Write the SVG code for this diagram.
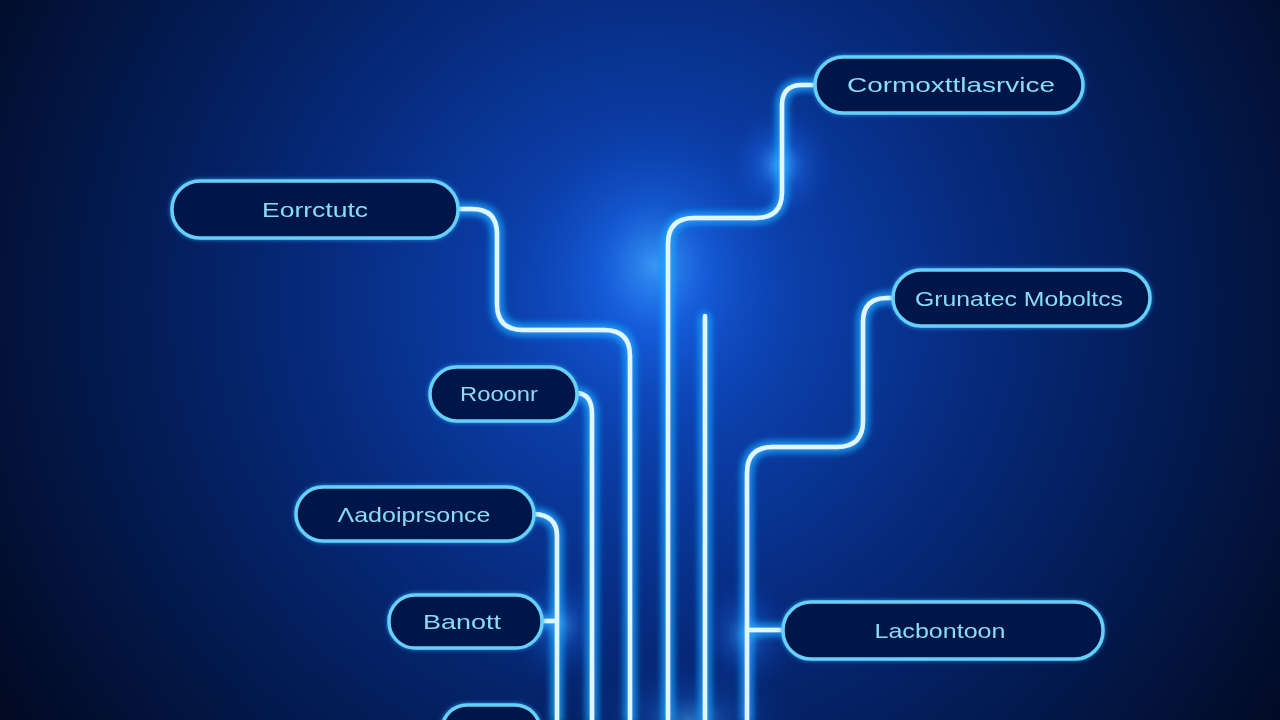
<svg xmlns="http://www.w3.org/2000/svg" width="1280" height="720" viewBox="0 0 1280 720">
<defs>
<radialGradient id="bg" cx="650" cy="300" r="760" gradientUnits="userSpaceOnUse">
<stop offset="0" stop-color="#1458d8"/>
<stop offset="0.2" stop-color="#0b3ea8"/>
<stop offset="0.45" stop-color="#06297a"/>
<stop offset="0.75" stop-color="#03184a"/>
<stop offset="1" stop-color="#020a24"/>
</radialGradient>
<radialGradient id="spot" cx="0.5" cy="0.5" r="0.5">
<stop offset="0" stop-color="#45adff" stop-opacity="0.9"/>
<stop offset="0.4" stop-color="#1c6ff0" stop-opacity="0.4"/>
<stop offset="1" stop-color="#0a3ab0" stop-opacity="0"/>
</radialGradient>
<filter id="glow" filterUnits="userSpaceOnUse" x="0" y="0" width="1280" height="720">
<feGaussianBlur in="SourceAlpha" stdDeviation="5" result="b"/>
<feFlood flood-color="#2aa6ff" result="f"/>
<feComposite in="f" in2="b" operator="in" result="g"/>
<feMerge><feMergeNode in="g"/><feMergeNode in="g"/><feMergeNode in="g"/><feMergeNode in="SourceGraphic"/></feMerge>
</filter>
<filter id="tglow" filterUnits="userSpaceOnUse" x="0" y="0" width="1280" height="720">
<feGaussianBlur in="SourceAlpha" stdDeviation="2" result="b"/>
<feFlood flood-color="#2aa6ff" flood-opacity="0.8" result="f"/>
<feComposite in="f" in2="b" operator="in" result="g"/>
<feMerge><feMergeNode in="g"/><feMergeNode in="SourceGraphic"/></feMerge>
</filter>
</defs>
<style>
.wire{fill:none;stroke:#dcf7ff;stroke-width:4.5;stroke-linecap:round;stroke-linejoin:round}
.pill{fill:#04164a;stroke:#66d0f8;stroke-width:3.5}
.lbl{font-family:"Liberation Sans","DejaVu Sans",sans-serif;font-size:21px;fill:#8adcf7;text-anchor:middle}
</style>
<rect width="1280" height="720" fill="url(#bg)"/>
<ellipse cx="655" cy="265" rx="140" ry="160" fill="url(#spot)" opacity="0.85"/>
<ellipse cx="780" cy="165" rx="55" ry="60" fill="url(#spot)"/>
<ellipse cx="560" cy="625" rx="50" ry="60" fill="url(#spot)" opacity="0.7"/>
<ellipse cx="745" cy="635" rx="50" ry="60" fill="url(#spot)" opacity="0.7"/>
<ellipse cx="690" cy="720" rx="110" ry="60" fill="url(#spot)" opacity="0.6"/>

<g id="connectors" filter="url(#glow)">
<path class="wire" d="M815,85 H802 Q782,85 782,105 V192 Q782,218 756,218 H694 Q668,218 668,244 V722"/>
<path class="wire" d="M705,316 V722"/>
<path class="wire" d="M458,209 H472 Q497,209 497,234 V304 Q497,330 523,330 H604 Q630,330 630,356 V722"/>
<path class="wire" d="M577,393 Q592,394 592,414 V722"/>
<path class="wire" d="M534,514 Q557,515 557,536 V722"/>
<path class="wire" d="M542,621 H557"/>
<path class="wire" d="M893,298 H887 Q863,298 863,322 V421 Q863,447 837,447 H773 Q747,447 747,473 V722"/>
<path class="wire" d="M783,630 H747"/>
</g>

<g id="node-cormox" filter="url(#tglow)">
<rect class="pill" x="815" y="57" width="268" height="56" rx="28"/>
<text class="lbl" x="951" y="92" textLength="208" lengthAdjust="spacingAndGlyphs">Cormoxttlasrvice</text>
</g>
<g id="node-eorrctutc" filter="url(#tglow)">
<rect class="pill" x="172" y="181" width="286" height="57" rx="28"/>
<text class="lbl" x="315" y="217" textLength="106" lengthAdjust="spacingAndGlyphs">Eorrctutc</text>
</g>
<g id="node-grunatec" filter="url(#tglow)">
<rect class="pill" x="893" y="270" width="257" height="56" rx="28"/>
<text class="lbl" x="1019" y="306" textLength="208" lengthAdjust="spacingAndGlyphs">Grunatec Moboltcs</text>
</g>
<g id="node-rooonr" filter="url(#tglow)">
<rect class="pill" x="430" y="367" width="147" height="54" rx="27"/>
<text class="lbl" x="499" y="401" textLength="78" lengthAdjust="spacingAndGlyphs">Rooonr</text>
</g>
<g id="node-aadoiprsonce" filter="url(#tglow)">
<rect class="pill" x="296" y="487" width="238" height="54" rx="27"/>
<text class="lbl" x="414" y="522" textLength="153" lengthAdjust="spacingAndGlyphs">Λadoiprsonce</text>
</g>
<g id="node-banott" filter="url(#tglow)">
<rect class="pill" x="389" y="595" width="153" height="53" rx="26"/>
<text class="lbl" x="462" y="629" textLength="78" lengthAdjust="spacingAndGlyphs">Banott</text>
</g>
<g id="node-lacbontoon" filter="url(#tglow)">
<rect class="pill" x="783" y="602" width="320" height="57" rx="28"/>
<text class="lbl" x="940" y="638" textLength="131" lengthAdjust="spacingAndGlyphs">Lacbontoon</text>
</g>
<g id="node-bottom" filter="url(#tglow)">
<rect class="pill" x="442" y="705" width="98" height="50" rx="25"/>
</g>
</svg>
